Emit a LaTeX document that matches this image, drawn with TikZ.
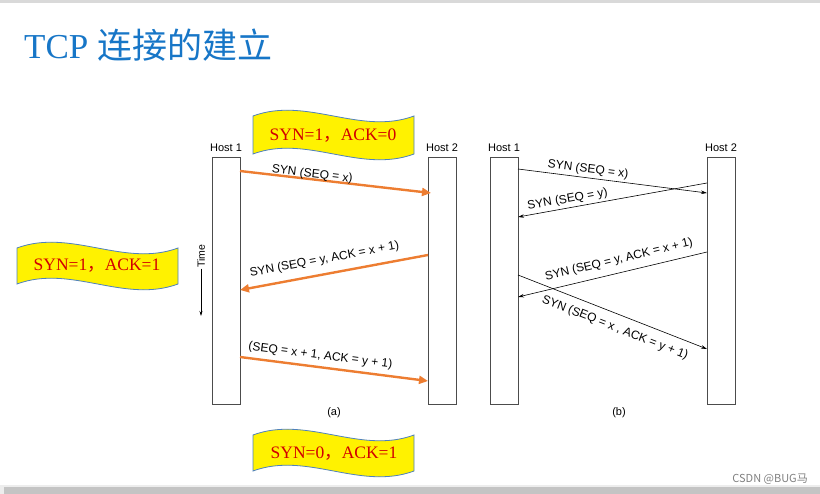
\documentclass[tikz,border=0pt]{standalone}
\usepackage{fontspec}
\setmainfont{Liberation Serif}
\setsansfont{Liberation Sans}
\newfontfamily\cjk{Noto Sans CJK SC}
\usepackage{tikz}
\usetikzlibrary{arrows.meta,positioning,calc}

\definecolor{titleblue}{RGB}{23,118,199}
\definecolor{pptorange}{RGB}{237,125,49}
\definecolor{bannerred}{RGB}{210,0,0}
\definecolor{bannerline}{RGB}{79,129,189}
\definecolor{bargray}{RGB}{196,196,196}

\begin{document}
\begin{tikzpicture}[x=1pt,y=-1pt,
  host/.style={rectangle,draw=black!70,line width=0.8pt,minimum width=28pt,minimum height=247pt,inner sep=0pt},
  hostname/.style={font=\sffamily\fontsize{11}{11}\selectfont,inner sep=0pt},
  msg/.style={font=\sffamily\fontsize{12}{12}\selectfont,inner sep=1pt,sloped},
  hand/.style={draw=pptorange,line width=2.4pt,-{Triangle[length=9pt,width=8pt]}},
  pkt/.style={draw=black,line width=0.6pt,-{Stealth[length=6pt,width=3.5pt]}},
  banner/.style={fill=yellow,draw=bannerline,line width=0.8pt},
  flags/.style={text=bannerred,font=\fontsize{17.5}{17.5}\selectfont,inner sep=0pt}]
\useasboundingbox (0,0) rectangle (820,494);

% window bars
\fill[black!15] (0,0) rectangle (820,3);
\fill[black!7] (0,485) rectangle (820,494);
\fill[bargray] (4,487) rectangle (820,494);

% title
\node[anchor=west,text=titleblue,inner sep=0pt,name=title] at (24,45) {\fontsize{35}{35}\selectfont TCP \cjk 连接的建立};

% flag banners
\draw[banner] (17,248) .. controls (71,228) and (124,268) .. (178,248) -- (178,284) .. controls (124,304) and (71,264) .. (17,284) -- cycle;
\draw[banner] (253,116) .. controls (307,96) and (360,136) .. (414,116) -- (414,154) .. controls (360,174) and (307,134) .. (253,154) -- cycle;
\draw[banner] (253,435) .. controls (307,415) and (360,455) .. (414,435) -- (414,471) .. controls (360,491) and (307,451) .. (253,471) -- cycle;
\node[flags,name=synack] at (97,266) {SYN=1{\cjk ，}ACK=1};
\node[flags,name=syn] at (333,136) {SYN=1{\cjk ，}ACK=0};
\node[flags,name=ack] at (334,454) {SYN=0{\cjk ，}ACK=1};

% hosts (a)
\node[host,name=h1a] at (226,280.5) {};
\node[host,name=h2a] at (442,280.5) {};
\node[hostname,above=5pt of h1a] {Host 1};
\node[hostname,above=5pt of h2a] {Host 2};

% time axis
\node[rotate=90,font=\sffamily\fontsize{10.5}{10.5}\selectfont,inner sep=1pt,name=time] at (201,256) {Time};
\coordinate (tend) at (201,316);
\draw[-{Stealth[length=5pt,width=3pt]},line width=0.6pt] (time.west) -- (tend);

% messages (a)
\coordinate (a1s) at (240,171);
\coordinate (a1e) at (431,193);
\coordinate (a2s) at (428,255);
\coordinate (a2e) at (240,290);
\coordinate (a3s) at (240,357);
\coordinate (a3e) at (428,381);
\draw[hand] (a1s) -- node[msg,pos=0.375,above=-3pt] {SYN (SEQ = x)} (a1e);
\draw[hand] (a2s) -- node[msg,pos=0.537,above=6.5pt] {SYN (SEQ = y, ACK = x + 1)} (a2e);
\draw[hand] (a3s) -- node[msg,pos=0.42,above=3.5pt] {(SEQ = x + 1, ACK = y + 1)} (a3e);
\node[font=\sffamily\fontsize{11}{11}\selectfont,name=capa] at (334,413) {(a)};

% hosts (b)
\node[host,name=h1b] at (504,280.5) {};
\node[host,name=h2b] at (721,280.5) {};
\node[hostname,above=5pt of h1b] {Host 1};
\node[hostname,above=5pt of h2b] {Host 2};

% messages (b)
\coordinate (b1s) at (518,169);
\coordinate (b1e) at (707,193);
\coordinate (b2s) at (707,183);
\coordinate (b2e) at (518,217);
\coordinate (b3s) at (707,252);
\coordinate (b3e) at (518,297);
\coordinate (b4s) at (518,275);
\coordinate (b4e) at (707,349);
\draw[pkt] (b1s) -- node[msg,pos=0.365,above=1pt] {SYN (SEQ = x)} (b1e);
\draw[pkt] (b2s) -- node[msg,pos=0.73,above=1.5pt] {SYN (SEQ = y)} (b2e);
\draw[pkt] (b3s) -- node[msg,pos=0.45,above=6pt] {SYN (SEQ = y, ACK = x + 1)} (b3e);
\draw[pkt] (b4s) -- node[msg,pos=0.54,below=7pt] {SYN (SEQ = x , ACK = y + 1)} (b4e);
\node[font=\sffamily\fontsize{11}{11}\selectfont,name=capb] at (619,413) {(b)};

% watermark
\node[anchor=east,text=black!50,font=\cjk\fontsize{11}{11}\selectfont,inner sep=0pt,name=mark] at (808,479) {CSDN @BUG马};
\end{tikzpicture}
\end{document}
